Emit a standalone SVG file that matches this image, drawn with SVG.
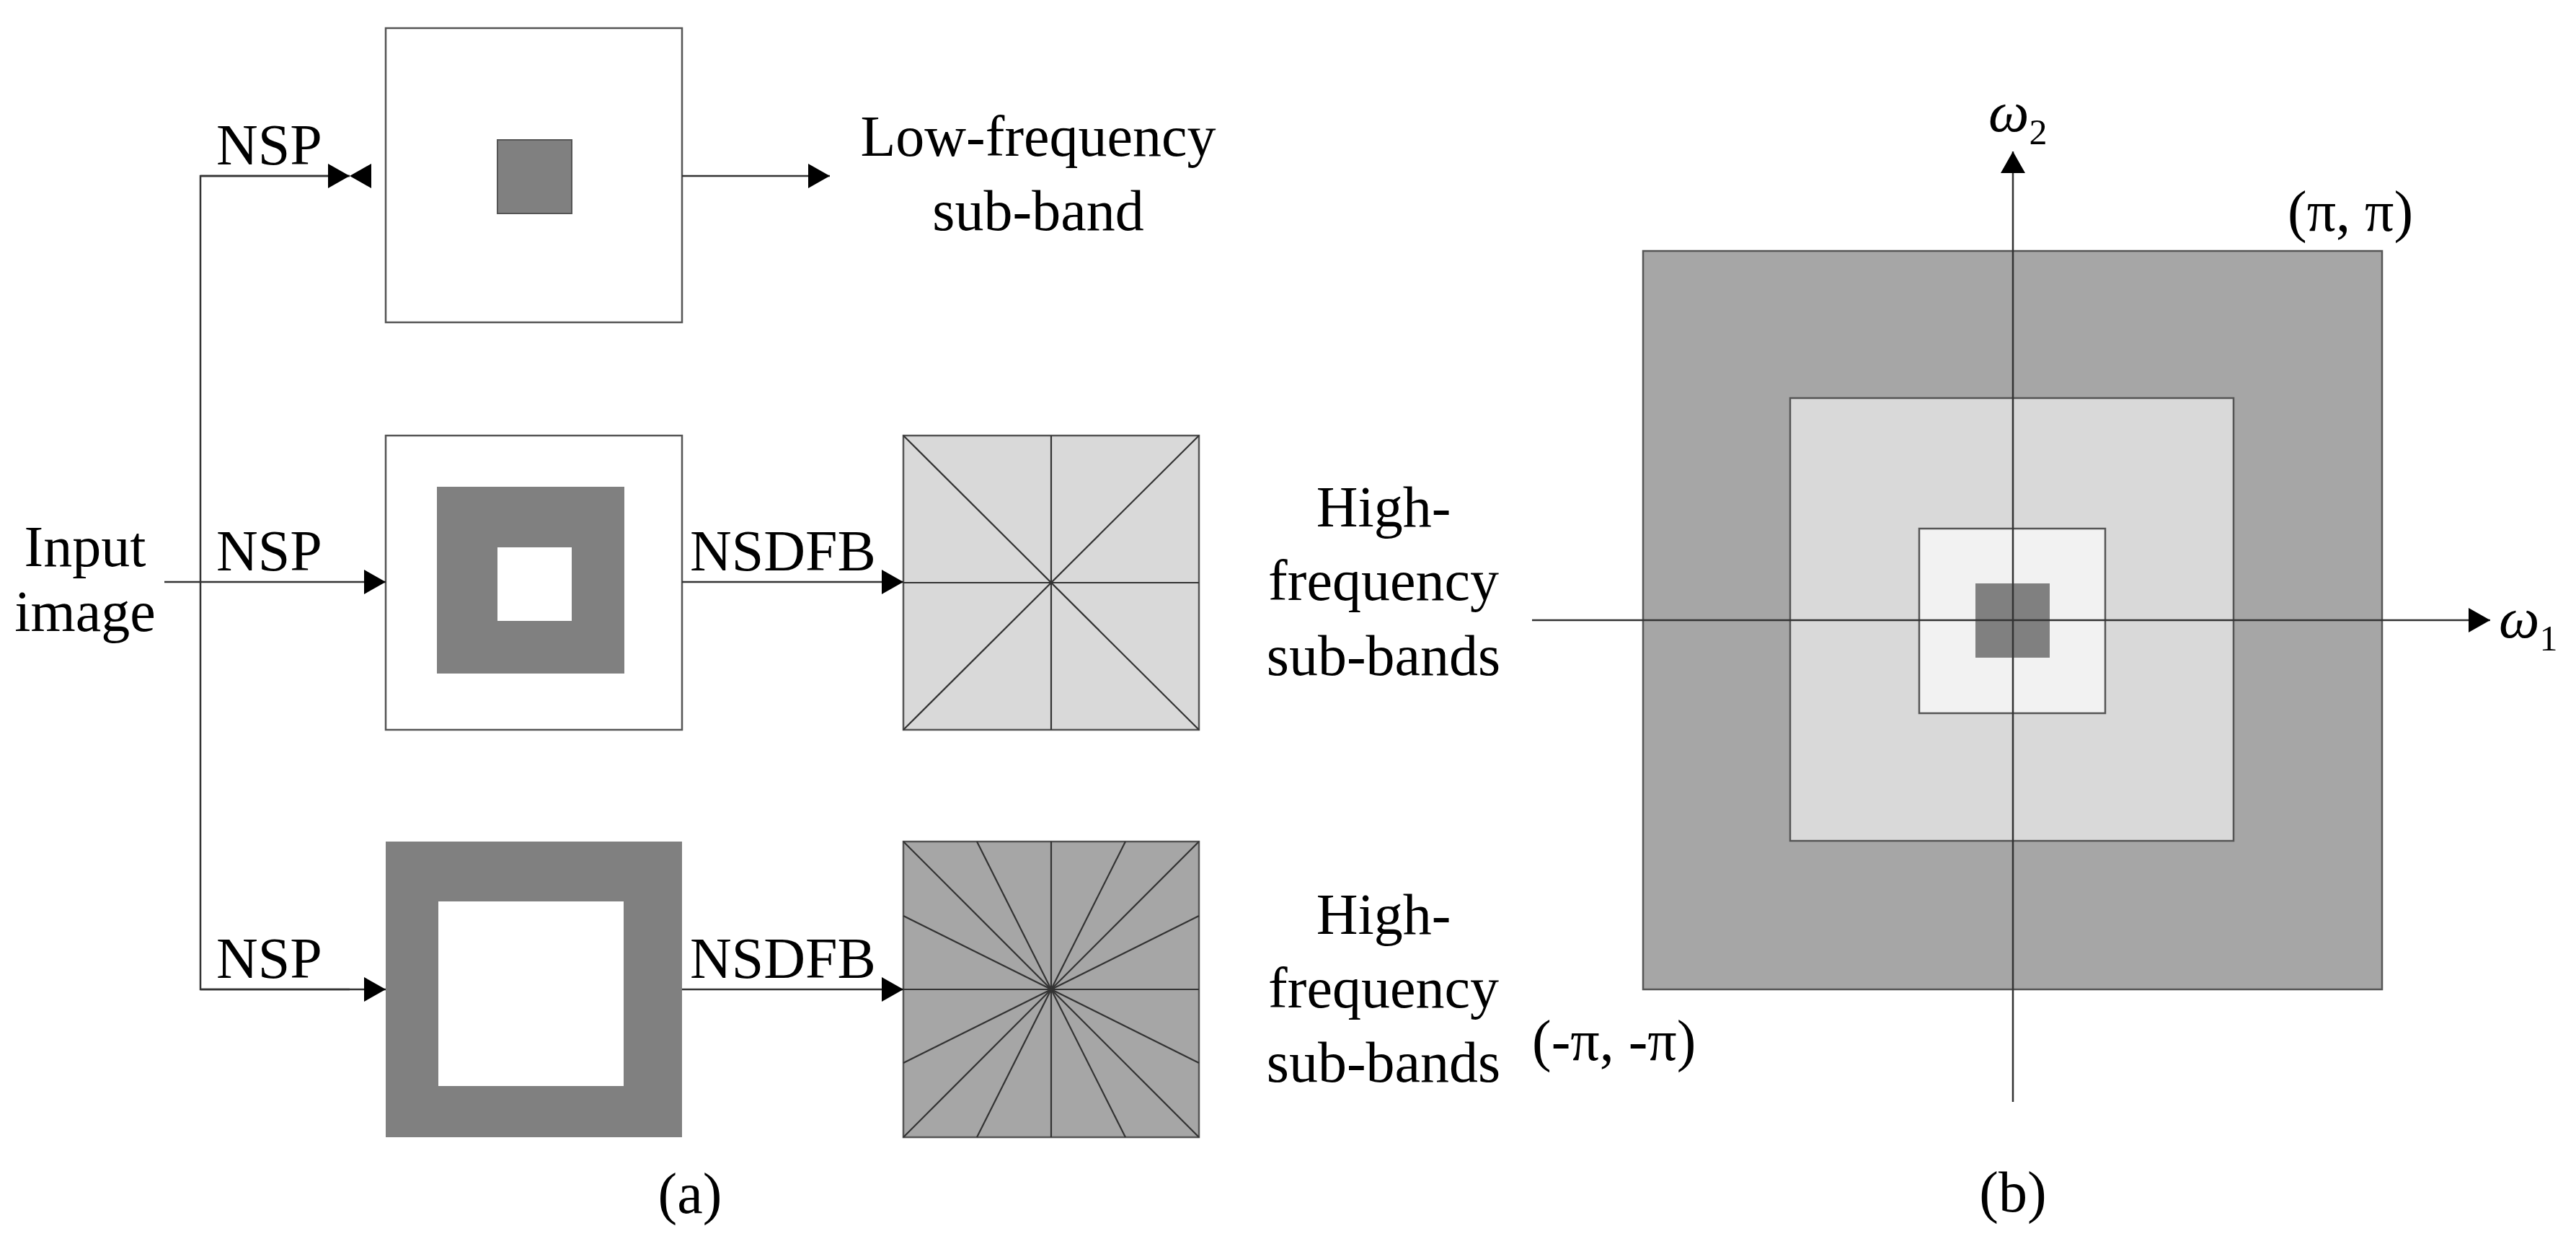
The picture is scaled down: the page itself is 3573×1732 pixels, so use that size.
<svg xmlns="http://www.w3.org/2000/svg" width="3573" height="1732" viewBox="0 0 3573 1732">
<style>
text{font-family:"Liberation Serif","Times New Roman",serif;font-size:80px;fill:#000}
.c{text-anchor:middle}
.ln{stroke:#333;stroke-width:2.5;fill:none}
.bx{stroke:#555;stroke-width:2.5}
.sp{stroke:#333;stroke-width:2.2}
.it{font-style:italic}
</style>
<defs>
<marker id="ah" markerUnits="userSpaceOnUse" markerWidth="30" markerHeight="34" refX="30" refY="17" orient="auto">
<path d="M0,0 L30,17 L0,34 Z" fill="#000"/>
</marker>
</defs>
<rect width="3573" height="1732" fill="#fff"/>

<g id="box-low">
<rect class="bx" x="535" y="39" width="411" height="408" fill="#fff"/>
<rect x="690" y="194" width="103" height="102" fill="#808080" stroke="#555" stroke-width="2"/>
</g>
<g id="box-mid">
<rect class="bx" x="535" y="604" width="411" height="408" fill="#fff"/>
<rect x="606" y="675" width="260" height="259" fill="#808080"/>
<rect x="690" y="759" width="103" height="102" fill="#fff"/>
</g>
<g id="dfb-mid">
<rect class="bx" x="1253" y="604" width="410" height="408" fill="#d9d9d9"/>
<line class="sp" x1="1458" y1="604" x2="1458" y2="1012"/>
<line class="sp" x1="1253" y1="808" x2="1663" y2="808"/>
<line class="sp" x1="1253" y1="604" x2="1663" y2="1012"/>
<line class="sp" x1="1663" y1="604" x2="1253" y2="1012"/>
</g>
<g id="box-bot">
<rect x="535" y="1167" width="411" height="410" fill="#808080"/>
<rect x="608" y="1250" width="257" height="256" fill="#fff"/>
</g>
<g id="dfb-bot">
<rect class="bx" x="1253" y="1167" width="410" height="410" fill="#a6a6a6"/>
<line class="sp" x1="1458" y1="1167" x2="1458" y2="1577"/>
<line class="sp" x1="1253" y1="1372" x2="1663" y2="1372"/>
<line class="sp" x1="1253" y1="1167" x2="1663" y2="1577"/>
<line class="sp" x1="1663" y1="1167" x2="1253" y2="1577"/>
<line class="sp" x1="1355" y1="1167" x2="1561" y2="1577"/>
<line class="sp" x1="1561" y1="1167" x2="1355" y2="1577"/>
<line class="sp" x1="1253" y1="1270" x2="1663" y2="1474"/>
<line class="sp" x1="1253" y1="1474" x2="1663" y2="1270"/>
</g>

<g id="connectors">
<polyline class="ln" points="485,244 278,244 278,1372 485,1372" marker-start="url(#ah)"/>
<line class="ln" x1="278" y1="1372" x2="535" y2="1372" marker-end="url(#ah)"/>
<line class="ln" x1="278" y1="244" x2="485" y2="244" marker-end="url(#ah)"/>
<line class="ln" x1="228" y1="807" x2="535" y2="807" marker-end="url(#ah)"/>
<line class="ln" x1="946" y1="244" x2="1151" y2="244" marker-end="url(#ah)"/>
<line class="ln" x1="946" y1="807" x2="1253" y2="807" marker-end="url(#ah)"/>
<line class="ln" x1="946" y1="1372" x2="1253" y2="1372" marker-end="url(#ah)"/>
</g>

<g id="labels-a">
<text x="300" y="228">NSP</text>
<text x="300" y="791">NSP</text>
<text x="300" y="1356">NSP</text>
<text x="957" y="791">NSDFB</text>
<text x="957" y="1356">NSDFB</text>
<text class="c" x="118" y="785">Input</text>
<text class="c" x="118" y="875">image</text>
<text class="c" x="1440" y="216">Low-frequency</text>
<text class="c" x="1440" y="319">sub-band</text>
<text class="c" x="1919" y="730">High-</text>
<text class="c" x="1919" y="832">frequency</text>
<text class="c" x="1919" y="936">sub-bands</text>
<text class="c" x="1919" y="1295">High-</text>
<text class="c" x="1919" y="1397">frequency</text>
<text class="c" x="1919" y="1500">sub-bands</text>
<text class="c" x="957" y="1682">(a)</text>
</g>

<g id="freq-plane">
<rect class="bx" x="2279" y="348" width="1025" height="1024" fill="#a6a6a6"/>
<rect class="bx" x="2483" y="552" width="615" height="614" fill="#d9d9d9"/>
<rect class="bx" x="2662" y="733" width="258" height="256" fill="#f2f2f2"/>
<rect x="2740" y="809" width="103" height="103" fill="#808080"/>
</g>
<g id="axes">
<line class="ln" x1="2792" y1="1528" x2="2792" y2="210" marker-end="url(#ah)"/>
<line class="ln" x1="2125" y1="860" x2="3454" y2="860" marker-end="url(#ah)"/>
</g>
<g id="labels-b">
<text class="it" x="2758" y="182">ω<tspan font-size="50" font-style="normal" dy="18">2</tspan></text>
<text class="it" x="3466" y="884">ω<tspan font-size="50" font-style="normal" dy="18">1</tspan></text>
<text x="3173" y="320">(π, π)</text>
<text x="2125" y="1470">(-π, -π)</text>
<text class="c" x="2792" y="1680">(b)</text>
</g>
</svg>
